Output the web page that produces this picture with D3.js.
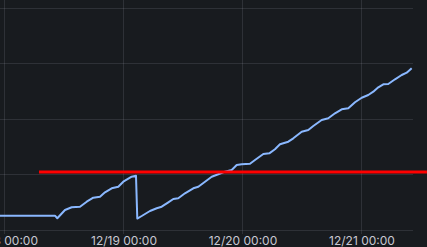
<!DOCTYPE html>
<html>
<head>
<meta charset="utf-8">
<script src="https://cdn.jsdelivr.net/npm/d3@7"></script>
<style>
  html, body { margin: 0; padding: 0; background: #181b1f; overflow: hidden; }
  svg { display: block; }
</style>
</head>
<body>
<script>
// series: hours after 12/18 00:00 and the reading at that time
const hours = [-1.0, 10.18, 10.65, 12.20, 13.55, 15.23, 16.58, 17.91, 19.26, 20.27,
  21.62, 22.95, 23.96, 25.65, 26.52, 26.78, 27.67, 29.34, 30.70, 31.70,
  33.04, 34.04, 35.05, 36.40, 38.08, 39.09, 40.44, 41.79, 43.12, 44.47,
  45.82, 46.83, 47.84, 49.51, 50.52, 52.20, 53.40, 54.55, 55.56, 57.24,
  58.25, 59.94, 61.27, 62.28, 63.97, 65.30, 66.66, 68.01, 69.34, 70.69,
  72.04, 73.37, 74.38, 75.39, 76.40, 77.40, 78.76, 80.11, 81.12, 82.12];
const values = [6.67, 6.67, 5.5, 9.23, 10.45, 10.72, 12.97, 14.77, 15.23, 17.2,
  19.0, 19.73, 21.98, 24.23, 24.68, 5.4, 6.53, 8.78, 10.0, 10.72,
  12.7, 14.19, 14.5, 16.76, 19.0, 19.73, 21.98, 24.23, 25.32, 26.49,
  27.25, 29.5, 29.82, 30.09, 31.76, 34.46, 34.77, 36.58, 38.83, 40.0,
  41.53, 44.5, 45.27, 47.07, 49.77, 50.54, 52.79, 54.59, 55.05, 57.75,
  59.82, 61.04, 62.52, 64.5, 65.86, 65.99, 68.11, 70.05, 71.08, 73.06];

// threshold line
const thresholdValue = 26.35;
const thresholdHours = [6.96, 85.2];

const tickDays = ["2024-12-18", "2024-12-19", "2024-12-20", "2024-12-21"];
const yTicks = [0, 25, 50, 75, 100];

const width = 427, height = 247;
const plotRight = 413;
const base = Date.UTC(2024, 11, 18);
const hour = 3600 * 1000;

const svg = d3.select("body").append("svg")
    .attr("width", width)
    .attr("height", height);

svg.append("rect").attr("width", width).attr("height", height).attr("fill", "#181b1f");

const x = d3.scaleUtc()
    .domain([new Date(base), new Date(base + 72 * hour)])
    .range([4.5, 361.5]);

const y = d3.scaleLinear()
    .domain([0, 100])
    .range([230.5, 8.5]);

const gridColor = "rgba(204,204,220,0.13)";

// horizontal grid
svg.append("g").selectAll("line")
    .data(yTicks)
    .join("line")
    .attr("x1", 0)
    .attr("x2", plotRight)
    .attr("y1", d => Math.round(y(d)) - 0.5)
    .attr("y2", d => Math.round(y(d)) - 0.5)
    .attr("stroke", gridColor);

// vertical grid + ticks
const tickDates = tickDays.map(s => new Date(s + "T00:00:00Z"));
svg.append("g").selectAll("line")
    .data(tickDates)
    .join("line")
    .attr("x1", d => Math.round(x(d) - 0.5) + 0.5)
    .attr("x2", d => Math.round(x(d) - 0.5) + 0.5)
    .attr("y1", 0)
    .attr("y2", 234)
    .attr("stroke", gridColor);

// x axis labels
const xAxis = d3.axisBottom(x)
    .tickValues(tickDates)
    .tickFormat(d3.utcFormat("%m/%d %H:%M"))
    .tickSize(0)
    .tickPadding(0);

const axisG = svg.append("g")
    .attr("transform", "translate(0,236)")
    .call(xAxis);
axisG.select(".domain").remove();
axisG.selectAll("text")
    .attr("fill", "#c8c8d2")
    .attr("dy", "0.71em")
    .style("font-family", "Inter, Roboto, sans-serif")
    .style("font-size", "12px");

// series line
const data = hours.map((h, i) => ({ t: new Date(base + h * hour), v: values[i] }));

const line = d3.line()
    .x(d => x(d.t))
    .y(d => y(d.v));

svg.append("defs").append("clipPath").attr("id", "plot")
    .append("rect").attr("x", 0).attr("y", 0).attr("width", plotRight).attr("height", 231);

svg.append("path")
    .datum(data)
    .attr("clip-path", "url(#plot)")
    .attr("d", line)
    .attr("fill", "none")
    .attr("stroke", "#8ab8ff")
    .attr("stroke-width", 2)
    .attr("stroke-linejoin", "round");

// threshold
svg.append("line")
    .attr("x1", x(new Date(base + thresholdHours[0] * hour)))
    .attr("x2", x(new Date(base + thresholdHours[1] * hour)))
    .attr("y1", y(thresholdValue))
    .attr("y2", y(thresholdValue))
    .attr("stroke", "#ff0000")
    .attr("stroke-width", 3);
</script>
</body>
</html>
